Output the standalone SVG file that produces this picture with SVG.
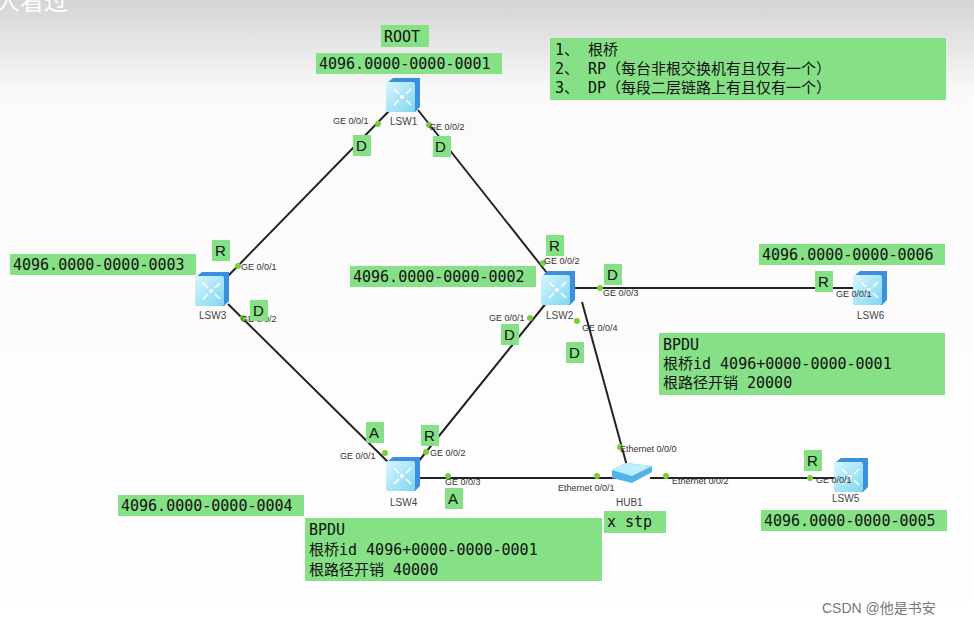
<svg xmlns="http://www.w3.org/2000/svg" width="974" height="626" viewBox="0 0 974 626">
<defs>
<linearGradient id="bg" x1="0" y1="0" x2="0" y2="1"><stop offset="0" stop-color="#d4d4d4"/><stop offset="0.15" stop-color="#fafafa"/><stop offset="1" stop-color="#ffffff"/></linearGradient>
<linearGradient id="sw" x1="0" y1="0" x2="1" y2="1"><stop offset="0" stop-color="#d8f6ff"/><stop offset="1" stop-color="#7fd6f0"/></linearGradient>
<g id="switch">
<path d="M-16,-12 L-10,-17 L17,-17 L17,12 L12,17 L-16,17 Z" fill="#3a8fe0"/>
<rect x="-17" y="-13" width="29" height="30" rx="2" fill="url(#sw)"/>
<g stroke="#ffffff" stroke-width="1.5" fill="none"><path d="M-9,-6 L-4,-1 M8,-6 L3,-1 M-9,10 L-4,5 M8,10 L3,5"/></g>
<circle cx="-1" cy="2" r="2" fill="#fff"/>
</g>
<g id="dot"><circle r="3" fill="#7ccf3c"/></g>
</defs>
<style>
.lab{fill:#86e086}
.mono{font-family:"DejaVu Sans Mono","Noto Sans CJK SC",monospace;fill:#111}
.port{font-family:"Liberation Sans",sans-serif;font-size:9px;fill:#333}
.name{font-family:"Liberation Sans",sans-serif;font-size:10px;fill:#444}
.big{font-family:"Liberation Sans",sans-serif;font-size:15px;fill:#111}
line{stroke:#222;stroke-width:2}
</style>
<rect width="974" height="626" fill="url(#bg)"/>
<text x="-4" y="10" font-family="Noto Sans CJK SC,sans-serif" font-size="24" fill="#fff">人看过</text>
<g id="connectors">
<line x1="390" y1="110" x2="228" y2="276"/>
<line x1="418" y1="110" x2="547" y2="273"/>
<line x1="228" y1="304" x2="388" y2="462"/>
<line x1="547" y1="302" x2="418" y2="462"/>
<line x1="575" y1="288" x2="856" y2="288"/>
<line x1="582" y1="302" x2="627" y2="466"/>
<line x1="420" y1="478" x2="616" y2="478"/>
<line x1="650" y1="478" x2="836" y2="478"/>
<use href="#dot" x="378" y="124"/><use href="#dot" x="429" y="125"/>
<use href="#dot" x="238" y="266"/><use href="#dot" x="243" y="318"/>
<use href="#dot" x="543" y="263"/><use href="#dot" x="600" y="288"/><use href="#dot" x="577" y="321"/><use href="#dot" x="530" y="318"/>
<use href="#dot" x="830" y="288"/>
<use href="#dot" x="385" y="453"/><use href="#dot" x="426" y="452"/><use href="#dot" x="448" y="476"/>
<use href="#dot" x="597" y="476"/><use href="#dot" x="620" y="447"/><use href="#dot" x="666" y="476"/><use href="#dot" x="810" y="478"/>
</g>
<g id="LSW1"><use href="#switch" x="403" y="95"/><text class="name" x="390" y="125">LSW1</text>
<text class="port" x="333" y="124">GE 0/0/1</text><text class="port" x="429" y="130">GE 0/0/2</text>
<rect class="lab" x="381" y="25" width="48" height="22"/><text class="mono" x="384" y="42" font-size="15">ROOT</text>
<rect class="lab" x="316" y="53" width="186" height="21"/><text class="mono" x="319" y="69" font-size="15">4096.0000-0000-0001</text>
<rect class="lab" x="353" y="135" width="18" height="21"/><text class="big" x="356" y="151">D</text>
<rect class="lab" x="433" y="136" width="18" height="21"/><text class="big" x="435" y="152">D</text></g>
<g id="LSW3"><use href="#switch" x="212" y="289"/><text class="name" x="199" y="319">LSW3</text>
<text class="port" x="241" y="270">GE 0/0/1</text><text class="port" x="241" y="322">GE 0/0/2</text>
<rect class="lab" x="212" y="240" width="18" height="21"/><text class="big" x="215" y="256">R</text>
<rect class="lab" x="250" y="300" width="18" height="21"/><text class="big" x="253" y="316">D</text>
<rect class="lab" x="10" y="254" width="186" height="21"/><text class="mono" x="13" y="270" font-size="15">4096.0000-0000-0003</text></g>
<g id="LSW2"><use href="#switch" x="558" y="288"/><text class="name" x="546" y="319">LSW2</text>
<text class="port" x="544" y="264">GE 0/0/2</text><text class="port" x="603" y="296">GE 0/0/3</text><text class="port" x="582" y="331">GE 0/0/4</text><text class="port" x="489" y="321">GE 0/0/1</text>
<rect class="lab" x="546" y="235" width="18" height="21"/><text class="big" x="549" y="251">R</text>
<rect class="lab" x="604" y="264" width="18" height="21"/><text class="big" x="607" y="280">D</text>
<rect class="lab" x="501" y="324" width="18" height="21"/><text class="big" x="504" y="340">D</text>
<rect class="lab" x="566" y="342" width="18" height="21"/><text class="big" x="569" y="358">D</text>
<rect class="lab" x="350" y="266" width="186" height="21"/><text class="mono" x="353" y="282" font-size="15">4096.0000-0000-0002</text></g>
<g id="LSW6"><use href="#switch" x="870" y="288"/><text class="name" x="857" y="319">LSW6</text>
<text class="port" x="836" y="297">GE 0/0/1</text>
<rect class="lab" x="815" y="271" width="18" height="21"/><text class="big" x="818" y="287">R</text>
<rect class="lab" x="759" y="244" width="186" height="21"/><text class="mono" x="762" y="260" font-size="15">4096.0000-0000-0006</text></g>
<g id="LSW4"><use href="#switch" x="403" y="474"/><text class="name" x="390" y="506">LSW4</text>
<text class="port" x="340" y="459">GE 0/0/1</text><text class="port" x="430" y="456">GE 0/0/2</text><text class="port" x="445" y="485">GE 0/0/3</text>
<rect class="lab" x="366" y="422" width="18" height="21"/><text class="big" x="369" y="438">A</text>
<rect class="lab" x="421" y="425" width="18" height="21"/><text class="big" x="424" y="441">R</text>
<rect class="lab" x="445" y="488" width="18" height="21"/><text class="big" x="448" y="504">A</text>
<rect class="lab" x="118" y="495" width="186" height="21"/><text class="mono" x="121" y="511" font-size="15">4096.0000-0000-0004</text></g>
<g id="HUB1"><path d="M612,470 L626,463 L652,466 L652,472 L632,483 L612,478 Z" fill="#52b3e8"/><path d="M612,470 L626,463 L652,466 L632,476 Z" fill="#bfeeff"/><text class="name" x="616" y="506">HUB1</text>
<text class="port" x="620" y="452">Ethernet 0/0/0</text><text class="port" x="558" y="491">Ethernet 0/0/1</text><text class="port" x="672" y="484">Ethernet 0/0/2</text>
<rect class="lab" x="604" y="511" width="62" height="22"/><text class="mono" x="607" y="527" font-size="15">x stp</text></g>
<g id="LSW5"><use href="#switch" x="851" y="475"/><text class="name" x="832" y="502">LSW5</text>
<text class="port" x="816" y="483">GE 0/0/1</text>
<rect class="lab" x="804" y="450" width="18" height="21"/><text class="big" x="807" y="466">R</text>
<rect class="lab" x="761" y="510" width="186" height="21"/><text class="mono" x="764" y="526" font-size="15">4096.0000-0000-0005</text></g>
<g id="note1"><rect class="lab" x="550" y="38" width="396" height="62"/>
<text class="mono" x="555" y="55" font-size="15">1、 根桥</text>
<text class="mono" x="555" y="74" font-size="15">2、 RP（每台非根交换机有且仅有一个）</text>
<text class="mono" x="555" y="93" font-size="15">3、 DP（每段二层链路上有且仅有一个）</text></g>
<g id="bpdu1"><rect class="lab" x="659" y="333" width="286" height="62"/>
<text class="mono" x="663" y="350" font-size="15">BPDU</text>
<text class="mono" x="663" y="369" font-size="15">根桥id 4096+0000-0000-0001</text>
<text class="mono" x="663" y="388" font-size="15">根路径开销 20000</text></g>
<g id="bpdu2"><rect class="lab" x="305" y="518" width="297" height="63"/>
<text class="mono" x="309" y="535" font-size="15">BPDU</text>
<text class="mono" x="309" y="555" font-size="15">根桥id 4096+0000-0000-0001</text>
<text class="mono" x="309" y="575" font-size="15">根路径开销 40000</text></g>
<text x="822" y="613" font-family="Liberation Sans,Noto Sans CJK SC,sans-serif" font-size="14" fill="#777">CSDN @他是书安</text>
</svg>
